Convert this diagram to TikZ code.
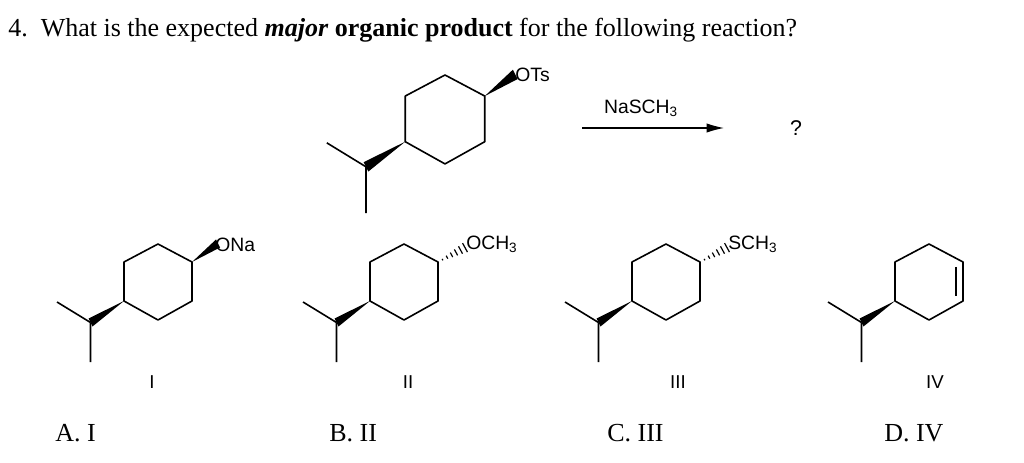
\documentclass[tikz,border=0pt]{standalone}
\usepackage{fontspec}
\setmainfont{Liberation Serif}
\newfontfamily\chemfont{Liberation Sans}
\usetikzlibrary{calc,arrows.meta}
\tikzset{bond/.style={line width=1.2pt,line join=round},
 chem/.style={font=\chemfont\fontsize{14.5}{16}\selectfont,inner sep=0pt},
 ans/.style={font=\fontsize{19.5}{22}\selectfont,inner sep=0pt},
 rom/.style={font=\chemfont\fontsize{14}{16}\selectfont,inner sep=0pt}}
\newcommand{\ring}{% scope with top vertex at origin, width 68
 \draw[bond] (0,0)--(34,18)--(34,57)--(0,76)--(-34,57)--(-34,18)--cycle;
 \fill (-34,57)--(-69.5,74.5)--(-65.5,82.5)--cycle;
 \draw[bond] (-67.5,78.5)--(-101,58) (-67.5,78.5)--(-67.5,118);}
\newcommand{\hashed}{\foreach \t in {0.15,0.3,...,1.0}{\draw[line width=0.9pt] ($(34,18)!\t!(64,2)+(-0.6*\t*4.5,-1.1*\t*4.5)$)--($(34,18)!\t!(64,2)+(0.6*\t*4.5,1.1*\t*4.5)$);}}
\begin{document}
\begin{tikzpicture}[x=0.75pt,y=-0.75pt]
\useasboundingbox (0,0) rectangle (1024,463);
\node[anchor=west,font=\fontsize{19.5}{22}\selectfont,inner sep=0pt] (q) at (8,30) {4.\enspace What is the expected \textbf{\textit{major}} \textbf{organic product} for the following reaction?};
\begin{scope}[shift={(445,75)},scale=1.17]
\ring
\fill (34,18)--(62,3.5)--(58,-4.5)--cycle;
\end{scope}
\node[chem,anchor=west] (ots) at (515,75) {OTs};
\coordinate (a1) at (582,128); \coordinate (a2) at (724,128);
\draw[line width=0.9pt,-{Latex[length=13pt,width=7pt]}] (a1)--(a2);
\node[chem] (reag) at (641,108) {NaSCH\textsubscript{3}};
\node[chem,font=\chemfont\fontsize{16}{18}\selectfont] (qm) at (796,128) {?};
\begin{scope}[shift={(158,244)}]
\ring
\fill (34,18)--(62,3.5)--(58,-4.5)--cycle;
\end{scope}
\node[chem,anchor=west] (ona) at (215,245) {ONa};
\begin{scope}[shift={(404,244)}]
\ring \hashed
\end{scope}
\node[chem,anchor=west] (och) at (466,244) {OCH\textsubscript{3}};
\begin{scope}[shift={(666,244)}]
\ring \hashed
\end{scope}
\node[chem,anchor=west] (sch) at (728,244) {SCH\textsubscript{3}};
\begin{scope}[shift={(929,244)}]
\ring
\draw[bond] (27,23)--(27,52);
\end{scope}
\node[rom] (r1) at (152,382) {I};
\node[rom] (r2) at (408,382) {II};
\node[rom] (r3) at (678,382) {III};
\node[rom] (r4) at (935,382) {IV};
\node[ans,anchor=west] (A) at (55,433) {A.\ I};
\node[ans,anchor=west] (B) at (329,433) {B.\ II};
\node[ans,anchor=west] (C) at (607,433) {C.\ III};
\node[ans,anchor=west] (D) at (884,433) {D.\ IV};
\end{tikzpicture}
\end{document}
